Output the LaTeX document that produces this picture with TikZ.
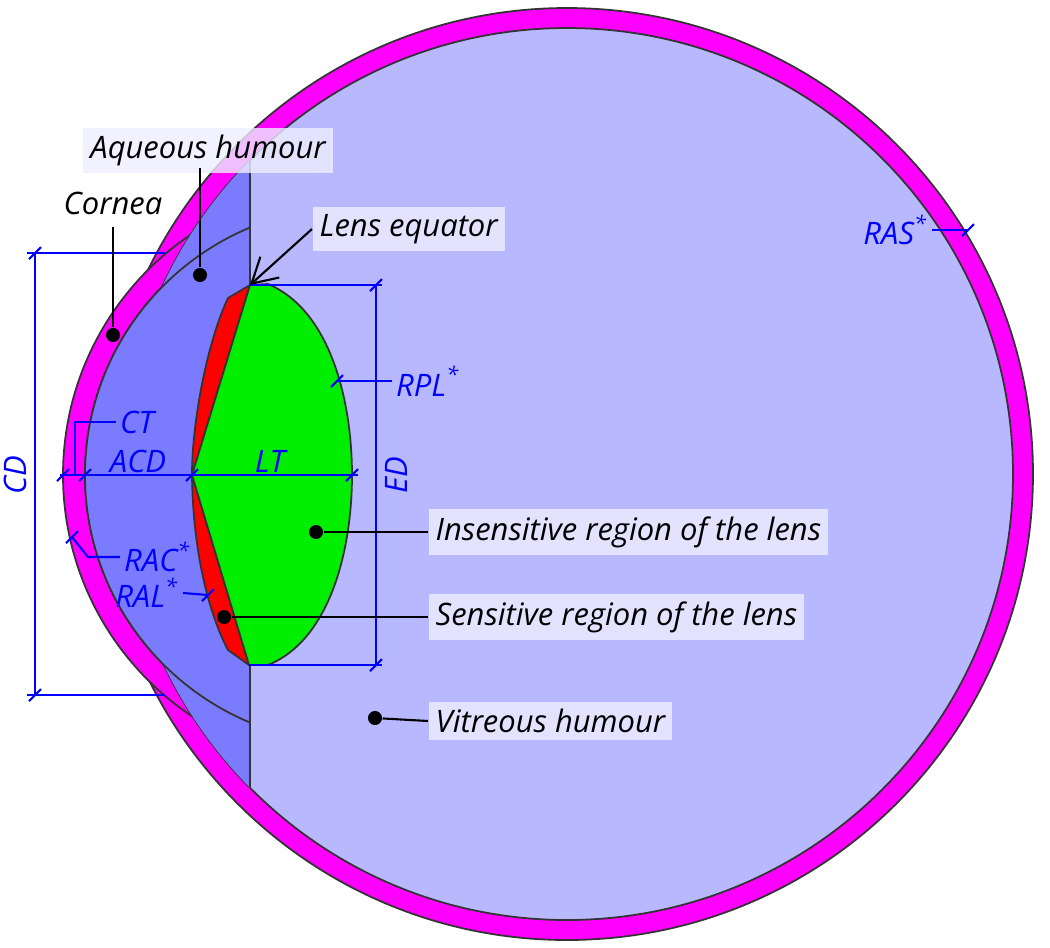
\documentclass[tikz,border=0pt]{standalone}
\usepackage{fontspec}
\setmainfont{Open Sans}
\usetikzlibrary{calc,positioning,arrows.meta}
\definecolor{sclera}{HTML}{FF00FF}
\definecolor{vitreous}{HTML}{B8B8FF}
\definecolor{aqueous}{HTML}{7B7BFF}
\definecolor{lensg}{HTML}{00EE00}
\definecolor{boxfill}{HTML}{EEEEFF}
\tikzset{
  dimline/.style={draw=blue, line width=0.6pt},
  dimtext/.style={text=blue, font=\itshape\fontsize{8.8}{10}\selectfont, inner sep=1pt},
  callout/.style={fill=boxfill, fill opacity=0.8, text opacity=1, font=\itshape\fontsize{8.8}{10}\selectfont, inner sep=2pt},
  leader/.style={draw=black, line width=0.6pt},
  dot/.style={circle, fill=black, inner sep=0pt, minimum size=4pt},
  outline/.style={draw=black!80, line width=0.5pt}
}
\newcommand{\dimtick}[1]{\draw[dimline] ($(#1)+(-6,6)$) -- ($(#1)+(6,-6)$);}
\begin{document}
\begin{tikzpicture}[x=0.01cm, y=-0.01cm]
\useasboundingbox (0,0) rectangle (1050,947);
% eye body
\fill[sclera, outline] (567,474) circle (466);
\fill[sclera, outline] (353,475) circle (290);
\fill[vitreous, outline] (567,474) circle (446);
\begin{scope}
  \clip (0,0) rectangle (250,947);
  \fill[aqueous, outline] (353,475) circle (268);
  \fill[aqueous] (567,474) circle (446);
  \fill[aqueous] (353,475) circle (268);
  \draw[outline] (353,475) circle (268);
\end{scope}
\draw[outline] (250,161) -- (250,787);
% lens
\coordinate (eqtop) at (250,285);
\coordinate (eqbot) at (249,665);
\coordinate (apex) at (192,475);
\fill[red, outline] (eqtop) -- (228,298) .. controls (208,340) and (192,420) .. (apex)
  .. controls (193,560) and (212,620) .. (228,650) -- (eqbot) -- (apex) -- cycle;
\fill[lensg, outline] (eqtop) -- (268,284) .. controls (330,310) and (352,400) .. (352,475)
  .. controls (352,550) and (330,640) .. (268,665) -- (eqbot) -- (apex) -- cycle;
% dimensions
\coordinate (cdtop) at (35,253);
\coordinate (cdbot) at (35,695);
\draw[dimline] (27,253) -- (165,253);
\draw[dimline] (27,695) -- (165,695);
\draw[dimline] (cdtop) -- (cdbot);
\dimtick{cdtop} \dimtick{cdbot}
\node[dimtext, rotate=90] (cd) at (15,475) {CD};
\coordinate (edtop) at (376,285);
\coordinate (edbot) at (376,665);
\draw[dimline] (eqtop) -- (382,285);
\draw[dimline] (eqbot) -- (382,665);
\draw[dimline] (edtop) -- (edbot);
\dimtick{edtop} \dimtick{edbot}
\node[dimtext, rotate=90] (ed) at (396,475) {ED};
\coordinate (cfront) at (63,475);
\coordinate (cback) at (85,475);
\coordinate (lback) at (352,475);
\draw[dimline] (60,475) -- (358,475);
\dimtick{cfront} \dimtick{cback} \dimtick{apex} \dimtick{lback}
\node[dimtext] (acd) at (138,461) {ACD};
\node[dimtext] (lt) at (270,461) {LT};
\node[dimtext, anchor=west] (ct) at (116,422) {CT};
\draw[dimline] (ct.west) -- (75,422) -- (75,475);
\coordinate (rac) at (72,537);
\dimtick{rac}
\node[dimtext, anchor=west] (racl) at (120,557) {RAC\textsuperscript{*}};
\draw[dimline] (rac) -- (88,557) -- (racl.west);
\coordinate (ral) at (208,595);
\dimtick{ral}
\node[dimtext, anchor=east] (rall) at (183,593) {RAL\textsuperscript{*}};
\draw[dimline] (rall.east) -- (ral);
\coordinate (rpl) at (337,381);
\dimtick{rpl}
\node[dimtext, anchor=west] (rpll) at (392,381) {RPL\textsuperscript{*}};
\draw[dimline] (rpll.west) -- (rpl);
\coordinate (ras) at (968,230);
\dimtick{ras}
\node[dimtext, anchor=east] (rasl) at (932,230) {RAS\textsuperscript{*}};
\draw[dimline] (rasl.east) -- (ras);
% callouts
\node[font=\itshape\fontsize{8.8}{10}\selectfont] (cornea) at (113,203) {Cornea};
\node[dot] (corneadot) at (113,335) {};
\draw[leader] (corneadot) -- (cornea.south);
\node[callout] (aqueous) at (208,150) {Aqueous humour};
\node[dot] (aqueousdot) at (200,275) {};
\draw[leader] (aqueousdot) -- (200,168);
\node[callout, anchor=west] (equator) at (312,229) {Lens equator};
\draw[leader, -{Straight Barb[length=7pt,width=8pt]}] (equator.west) -- (eqtop);
\node[callout, anchor=west] (insens) at (428,532) {Insensitive region of the lens};
\node[dot] (insensdot) at (316,532) {};
\draw[leader] (insensdot) -- (insens.west);
\node[callout, anchor=west] (sens) at (428,617) {Sensitive region of the lens};
\node[dot] (sensdot) at (224,617) {};
\draw[leader] (sensdot) -- (sens.west);
\node[callout, anchor=west] (vitr) at (428,721) {Vitreous humour};
\node[dot] (vitrdot) at (375,718) {};
\draw[leader] (vitrdot) -- (vitr.west);
\end{tikzpicture}
\end{document}
